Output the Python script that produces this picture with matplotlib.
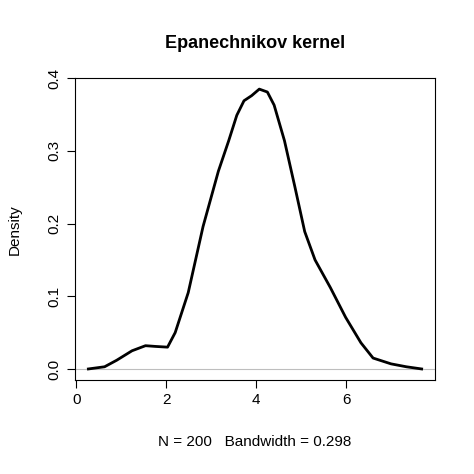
import matplotlib.pyplot as plt

plt.rcParams['font.family'] = ['Liberation Sans', 'DejaVu Sans']

# density curve
x = [0.27, 0.63, 0.9, 1.24, 1.54, 1.76, 2.03, 2.2, 2.49, 2.82, 3.16, 3.39, 3.57,
     3.73, 3.9, 4.07, 4.25, 4.4, 4.63, 4.86, 5.08, 5.31, 5.65, 5.99, 6.33, 6.6,
     7.0, 7.34, 7.68]
dens = [0.0, 0.003, 0.012, 0.025, 0.032, 0.031, 0.03, 0.05, 0.105, 0.196, 0.272,
        0.314, 0.349, 0.369, 0.376, 0.385, 0.381, 0.363, 0.314, 0.251, 0.189,
        0.15, 0.112, 0.071, 0.036, 0.015, 0.007, 0.003, 0.0]

fig = plt.figure(figsize=(4.74, 4.74), dpi=100)
ax = fig.add_axes([0.158, 0.198, 0.76, 0.637])
ax.axhline(0, color="#bebebe", lw=0.8)
ax.plot(x, dens, color="black", lw=2, solid_joinstyle="round")

ax.set_xlim(-0.03, 7.98)
ax.set_ylim(-0.0154, 0.4)
ax.set_xticks([0, 2, 4, 6])
ax.set_yticks([0.0, 0.1, 0.2, 0.3, 0.4])
ax.set_yticklabels(["0.0", "0.1", "0.2", "0.3", "0.4"], rotation=90, va="center")
ax.tick_params(direction="out", length=6, labelsize=11)
ax.set_title("Epanechnikov kernel", fontsize=13, fontweight="bold", pad=22)
ax.set_xlabel("N = 200   Bandwidth = 0.298", fontsize=11, labelpad=20)
ax.set_ylabel("Density", fontsize=11, labelpad=19)

plt.savefig("out.png", dpi=100)
